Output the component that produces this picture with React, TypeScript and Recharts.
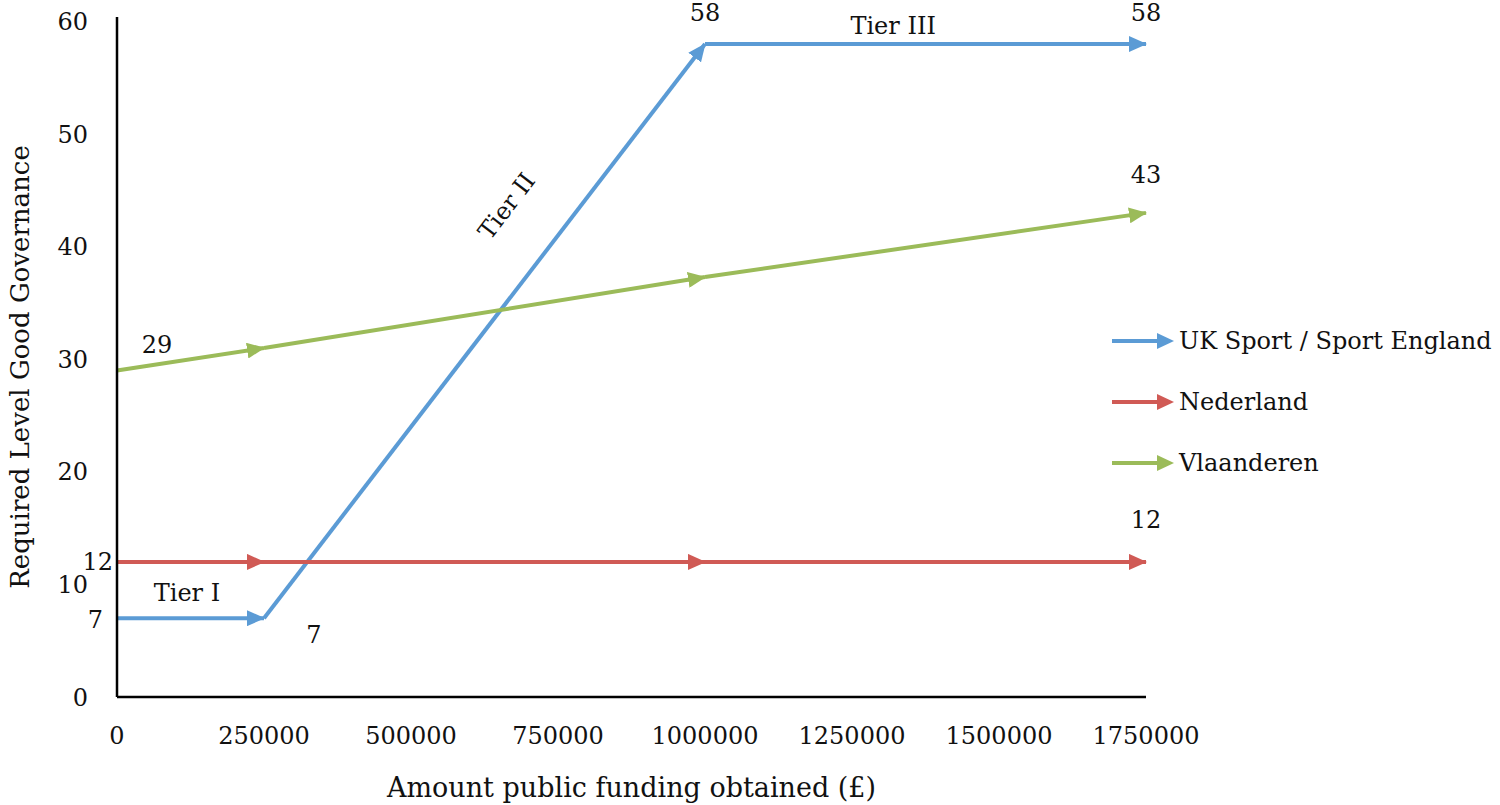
import React from "react";
import { LabelList, Line, LineChart, ReferenceDot, XAxis, YAxis } from "recharts";

document.body.style.margin = "0";

const fundingSteps = [0, 250000, 1000000, 1750000];
const ukSport = [7, 7, 58, 58];
const nederland = [12, 12, 12, 12];
const vlaanderen = [29, 31, 37.3, 43];

const xTicks = [0, 250000, 500000, 750000, 1000000, 1250000, 1500000, 1750000];
const yTicks = [0, 10, 20, 30, 40, 50, 60];

const seriesKeys = ["uk", "nl", "vl"];
const seriesNames = ["UK Sport / Sport England", "Nederland", "Vlaanderen"];
const seriesColors = ["#5b9bd5", "#d05a55", "#9bbb59"];
const seriesValues = [ukSport, nederland, vlaanderen];

const tierNames = ["Tier I", "Tier II", "Tier III"];
const tierX = [119000, 663000, 1320000];
const tierY = [9.2, 43.6, 59.6];
const tierAngle = [0, -52.5, 0];

const font = "'DejaVu Serif', serif";

// one row per funding step; each segment gets its own key so it can carry an arrow head
const rows = fundingSteps.map((x, i) => {
  const row: Record<string, number | null> = { x };
  seriesKeys.forEach((key, s) => {
    row[key] = seriesValues[s][i];
    for (let seg = 0; seg < fundingSteps.length - 1; seg++) {
      row[`${key}_${seg}`] = i === seg || i === seg + 1 ? seriesValues[s][i] : null;
    }
  });
  return row;
});

// where each point label sits relative to its point
const labelPlacement: Record<string, Record<number, { dx: number; dy: number; anchor: string }>> = {
  uk: {
    0: { dx: -14, dy: 2, anchor: "end" },
    1: { dx: 50, dy: 17, anchor: "middle" },
    2: { dx: 0, dy: -31, anchor: "middle" },
    3: { dx: 0, dy: -31, anchor: "middle" },
  },
  nl: {
    0: { dx: -4, dy: 0, anchor: "end" },
    3: { dx: 0, dy: -42, anchor: "middle" },
  },
  vl: {
    0: { dx: 40, dy: -26, anchor: "middle" },
    3: { dx: 0, dy: -38, anchor: "middle" },
  },
};

const pointLabel = (key: string) => (props: any) => {
  const place = labelPlacement[key][props.index];
  if (!place) return null;
  return (
    <text
      x={props.x + place.dx}
      y={props.y + place.dy}
      textAnchor={place.anchor}
      dominantBaseline="central"
      fontFamily={font}
      fontSize={24}
      fill="#111"
    >
      {props.value}
    </text>
  );
};

function ArrowLegend() {
  return (
    <div
      style={{
        position: "absolute",
        left: 1108,
        top: 310,
        fontFamily: font,
        fontSize: 24,
        color: "#111",
        whiteSpace: "nowrap",
      }}
    >
      {seriesNames.map((name, i) => (
        <div
          key={name}
          style={{ display: "flex", alignItems: "center", height: 61 }}
        >
          <svg width={68} height={20}>
            <line x1={4} y1={10} x2={52} y2={10} stroke={seriesColors[i]} strokeWidth={4} />
            <path d="M49,2 L66,10 L49,18 Z" fill={seriesColors[i]} />
          </svg>
          <span style={{ marginLeft: 3 }}>{name}</span>
        </div>
      ))}
    </div>
  );
}

export default function App() {
  return (
    <div style={{ position: "relative", width: 1500, height: 805, background: "#fff" }}>
      <svg width={0} height={0} style={{ position: "absolute" }}>
        <defs>
          {seriesKeys.map((key, i) => (
            <marker
              key={key}
              id={`arrow-${key}`}
              viewBox="0 0 18 16"
              refX={17}
              refY={8}
              markerWidth={18}
              markerHeight={16}
              markerUnits="userSpaceOnUse"
              orient="auto"
            >
              <path d="M0,0 L18,8 L0,16 Z" fill={seriesColors[i]} />
            </marker>
          ))}
        </defs>
      </svg>
      <LineChart
        width={1500}
        height={805}
        data={rows}
        margin={{ top: 17, right: 354, bottom: 0, left: 57 }}
      >
        <XAxis
          dataKey="x"
          type="number"
          domain={[0, 1750000]}
          ticks={xTicks}
          height={108}
          tickLine={false}
          tickMargin={24}
          axisLine={{ stroke: "#000", strokeWidth: 2.5 }}
          tick={{ fill: "#111", fontSize: 24, fontFamily: font }}
          label={{
            content: (p: any) => (
              <text
                x={p.viewBox.x + p.viewBox.width / 2}
                y={p.viewBox.y + 90}
                textAnchor="middle"
                dominantBaseline="central"
                fontFamily={font}
                fontSize={27}
                fill="#111"
              >
                Amount public funding obtained (£)
              </text>
            ),
          }}
        />
        <YAxis
          type="number"
          domain={[0, 60.4]}
          ticks={yTicks}
          width={60}
          tickLine={false}
          tickMargin={23}
          axisLine={{ stroke: "#000", strokeWidth: 2.5 }}
          tick={{ fill: "#111", fontSize: 24, fontFamily: font }}
          label={{
            content: (p: any) => {
              const cx = p.viewBox.x - 37;
              const cy = p.viewBox.y + p.viewBox.height / 2 + 10;
              return (
                <text
                  x={cx}
                  y={cy}
                  transform={`rotate(-90, ${cx}, ${cy})`}
                  textAnchor="middle"
                  dominantBaseline="central"
                  fontFamily={font}
                  fontSize={26}
                  fill="#111"
                >
                  Required Level Good Governance
                </text>
              );
            },
          }}
        />
        {seriesKeys.map((key, s) =>
          fundingSteps.slice(1).map((_, seg) => (
            <Line
              key={`${key}_${seg}`}
              type="linear"
              dataKey={`${key}_${seg}`}
              stroke={seriesColors[s]}
              strokeWidth={4}
              dot={false}
              activeDot={false}
              legendType="none"
              markerEnd={`url(#arrow-${key})`}
              isAnimationActive={false}
            />
          ))
        )}
        {seriesKeys.map((key, s) => (
          <Line
            key={key}
            type="linear"
            dataKey={key}
            name={seriesNames[s]}
            stroke="none"
            dot={false}
            activeDot={false}
            isAnimationActive={false}
          >
            <LabelList dataKey={key} content={pointLabel(key)} />
          </Line>
        ))}
        {tierNames.map((name, i) => (
          <ReferenceDot
            key={name}
            x={tierX[i]}
            y={tierY[i]}
            r={0}
            ifOverflow="visible"
            shape={(p: any) => (
              <text
                x={p.cx}
                y={p.cy}
                transform={`rotate(${tierAngle[i]}, ${p.cx}, ${p.cy})`}
                textAnchor="middle"
                dominantBaseline="central"
                fontFamily={font}
                fontSize={24}
                fill="#111"
              >
                {name}
              </text>
            )}
          />
        ))}
      </LineChart>
      <ArrowLegend />
    </div>
  );
}
